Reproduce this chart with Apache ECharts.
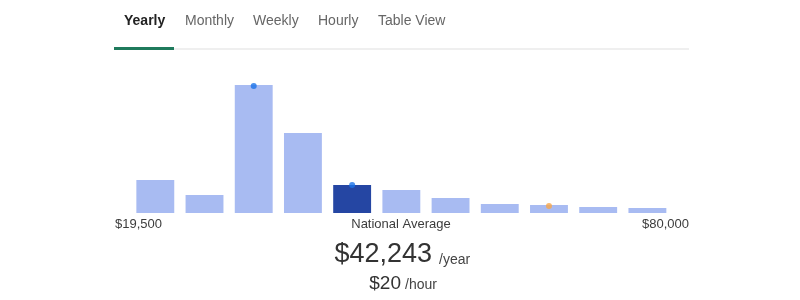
<!DOCTYPE html>
<html><head><meta charset="utf-8">
<script src="https://cdn.jsdelivr.net/npm/echarts@6/dist/echarts.min.js"></script>
<style>html,body{margin:0;padding:0;background:#fff}#c{width:800px;height:300px}</style>
</head><body><div id="c"></div>
<script>
const categories = ['b1','b2','b3','b4','b5','b6','b7','b8','b9','b10','b11'];
const barValues = [33, 18, 128, 80, 28, 23, 15, 9, 8, 6, 5];
const highlightIndex = 4;
const blueDots = [null, null, 127, null, 28, null, null, null, null, null, null];
const orangeDots = [null, null, null, null, null, null, null, null, 7, null, null];
const tabs = ['Yearly', 'Monthly', 'Weekly', 'Hourly', 'Table View'];
const tabX = [124, 185, 253, 318, 378];
const axisLabels = ['$19,500', 'National Average', '$80,000'];
const salaryYear = '$42,243';
const salaryHour = '$20';

const FONT = '"Liberation Sans", Arial, sans-serif';
const chart = echarts.init(document.getElementById('c'));
const graphics = [];
tabs.forEach((t, i) => {
  graphics.push({type:'text', left: tabX[i], top: 14, style:{text:t, font: (i===0?'bold ':'') + '14px ' + FONT, fill: i===0?'#222':'#666'}});
});
graphics.push({type:'rect', shape:{x:114, y:48.5, width:575, height:1}, style:{fill:'#e0e0e0'}});
graphics.push({type:'rect', shape:{x:114, y:47, width:60, height:3}, style:{fill:'#1f7a5c'}});
graphics.push({type:'text', left:115, top:218, style:{text:axisLabels[0], font:'13px '+FONT, fill:'#3c3c3c'}});
graphics.push({type:'text', x:401, y:218, style:{text:axisLabels[1], font:'13px '+FONT, fill:'#3c3c3c', align:'center'}});
graphics.push({type:'text', right:111, top:218, style:{text:axisLabels[2], font:'13px '+FONT, fill:'#3c3c3c'}});
graphics.push({type:'text', x:432, y:268, style:{text:salaryYear, font:'27px '+FONT, fill:'#333', align:'right', verticalAlign:'bottom'}});
graphics.push({type:'text', x:439, y:267, style:{text:'/year', font:'14px '+FONT, fill:'#444', verticalAlign:'bottom'}});
graphics.push({type:'text', x:401, y:293, style:{text:salaryHour, font:'19px '+FONT, fill:'#333', align:'right', verticalAlign:'bottom'}});
graphics.push({type:'text', x:405, y:292, style:{text:'/hour', font:'14px '+FONT, fill:'#444', verticalAlign:'bottom'}});

chart.setOption({
  animation: false,
  grid: {left: 130.7, width: 541.3, top: 85, bottom: 87},
  xAxis: {type:'category', data: categories, show:false},
  yAxis: {type:'value', min:0, max:128, show:false},
  graphic: graphics,
  series: [
    {type:'bar', barCategoryGap:'23%', data: barValues.map((v,i)=>({value:v, itemStyle:{color: i===highlightIndex?'#2546a3':'#a8bbf2'}}))},
    {type:'scatter', data: blueDots, symbolSize:6, itemStyle:{color:'#1a73e8'}, z:5},
    {type:'scatter', data: orangeDots, symbolSize:6, itemStyle:{color:'#f6a64a'}, z:5}
  ]
});
</script></body></html>
